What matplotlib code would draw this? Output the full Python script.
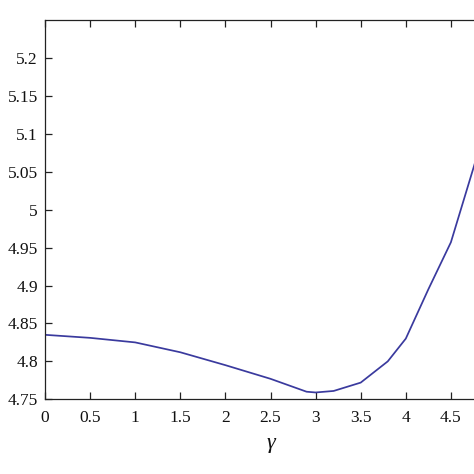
import matplotlib
matplotlib.use('Agg')
import matplotlib.pyplot as plt
import numpy as np
from matplotlib.ticker import FuncFormatter

# values
gamma = [0.0, 0.5, 1.0, 1.5, 2.0, 2.5, 2.9, 3.0, 3.2, 3.5, 3.8, 4.0, 4.25, 4.5, 4.75, 4.8]
value = [4.835, 4.831, 4.825, 4.812, 4.795, 4.777, 4.760, 4.759, 4.761, 4.772,
         4.800, 4.830, 4.895, 4.957, 5.055, 5.075]

x_ticks = np.arange(0, 4.51, 0.5)
y_ticks = np.arange(4.75, 5.201, 0.05)

plt.rcParams['font.family'] = ['Liberation Serif', 'DejaVu Serif']

fig = plt.figure(figsize=(4.74, 4.74), dpi=100)
W = H = 474
left, right = 45 / W, 496 / W
bottom, top = 1 - 399.3 / H, 1 - 20 / H
ax = fig.add_axes([left, bottom, right - left, top - bottom])

ax.plot(gamma, value, color='#3a3a9e', linewidth=1.25)

ax.set_xlim(0, 5)
ax.set_ylim(4.75, 5.25)
ax.set_xticks(x_ticks)
ax.set_yticks(y_ticks)
ax.xaxis.set_major_formatter(FuncFormatter(lambda v, p: f'{v:g}'))
ax.yaxis.set_major_formatter(FuncFormatter(lambda v, p: f'{round(v, 2):g}'))

ax.tick_params(direction='in', length=5, width=0.9, color='#222222',
               labelsize=12.5, top=True, right=False, labelcolor='#111111')
ax.tick_params(axis='x', pad=7.5)
ax.tick_params(axis='y', pad=5)
for s in ax.spines.values():
    s.set_linewidth(0.9)
    s.set_color('#222222')

ax.set_xlabel('γ', fontsize=16, fontstyle='italic', labelpad=6, color='#111111')

fig.savefig('out.png', dpi=100, facecolor='white')
